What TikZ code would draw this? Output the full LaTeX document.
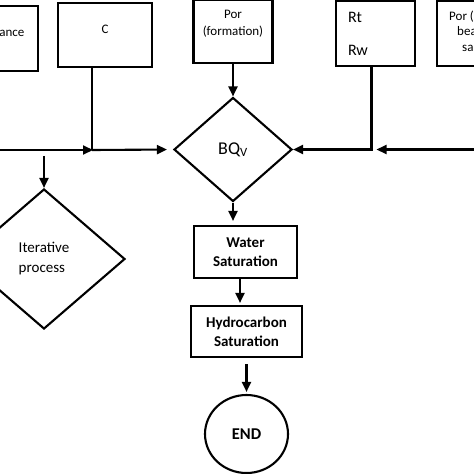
\documentclass[tikz,border=0pt]{standalone}
\usepackage{fontspec}
\setmainfont{Carlito}
\usetikzlibrary{shapes.geometric,arrows.meta}

\def\lw{2.1pt}

\tikzset{
  box/.style={draw, rectangle, line width=\lw, inner sep=0pt, align=center},
  decision/.style={draw, diamond, line width=\lw, inner sep=0pt, align=left},
  flow/.style={-{Triangle[length=10pt,width=9pt]}, line width=\lw},
  link/.style={line width=\lw},
  smalltxt/.style={inner sep=0pt, align=center, font=\fontsize{13}{17}\selectfont},
  plaintxt/.style={font=\fontsize{15}{20}\selectfont},
  boldtxt/.style={font=\fontsize{15}{19}\selectfont\bfseries},
}

\begin{document}
\begin{tikzpicture}[x=1pt, y=-1pt]
  \useasboundingbox (0,0) rectangle (474,474);
  \clip (0,0) rectangle (474,474);

    % input boxes
  \node[box, minimum width=77pt, minimum height=65pt] (resist) at (-0.6,38.5) {};
  \node[smalltxt, anchor=east] (resisttxt) at (24.5,33) {ance};
  \node[box, minimum width=94pt, minimum height=64pt] (cbox) at (105,35) {};
  \node[smalltxt] (ctxt) at ([yshift=6pt]cbox.center) {C};
  \node[box, minimum width=79pt, minimum height=63pt] (porbox) at (233,31.5) {};
  \node[smalltxt] (portxt) at ([yshift=8pt]porbox.center) {Por\\(formation)};
  \node[box, minimum width=79pt, minimum height=65pt, text width=55pt, align=left, font=\fontsize{16}{20}\selectfont] (rtbox) at (375.5,33.5) {Rt\\[13pt]Rw};
  \node[box, minimum width=80pt, minimum height=65pt] (sandbox) at (477,33.5) {};
  \node[smalltxt, anchor=west, align=left, font=\fontsize{13}{15.5}\selectfont] (sandtxt) at (449,31) {Por (\\\hspace*{8pt}bea\\\hspace*{13pt}sa};

    % decisions
  \node[decision, minimum width=162pt, minimum height=140pt, plaintxt] (iter) at (44,259) {Iterative\\process};
  \node[decision, minimum width=118pt, minimum height=104pt, font=\fontsize{18}{20}\selectfont] (bqv) at (233,149.5) {BQ\textsubscript{V}};

    % results
  \node[box, boldtxt, minimum width=103pt, minimum height=52pt] (water) at (245.5,252) {Water\\Saturation};
  \node[box, boldtxt, minimum width=111pt, minimum height=51pt] (hc) at (246.5,331.5) {Hydrocarbon\\Saturation};
  \node[draw, ellipse, line width=\lw, minimum width=83pt, minimum height=78pt, font=\fontsize{16.5}{20}\selectfont\bfseries] (end) at (246.5,434) {END};

    % connectors
  \coordinate (row) at (0,150);
  \coordinate (cfoot) at ([xshift=-13pt]cbox.south);
  \coordinate (rtfoot) at ([xshift=-4pt]rtbox.south);
  \draw[flow] (resist.south) -- (resist.south |- row) -- ([xshift=1pt]cfoot |- row);
  \draw[link] (cfoot) -- (cfoot |- row);
  \draw[flow, shorten >=6pt] (cfoot |- row) -- (bqv.west);
  \draw[flow] ([yshift=32pt]iter.north) -- (iter.north);
  \draw[flow] (porbox.south) -- (bqv.north);
  \draw[flow] (rtfoot) -- (rtfoot |- bqv.east) -- (bqv.east);
  \draw[flow] (sandbox.south) -- (sandbox.south |- bqv.east) -- ([xshift=5pt]rtfoot |- bqv.east);
  \draw[flow, shorten >=4pt] (bqv.south) -- (bqv.south |- water.north);
  \draw[flow, shorten >=2pt] ([xshift=-5.5pt]water.south) -- ([xshift=-5.5pt]water.south |- hc.north);
  \draw[flow, shorten <=6pt, shorten >=2pt] (hc.south) -- (end.north);
\end{tikzpicture}
\end{document}
